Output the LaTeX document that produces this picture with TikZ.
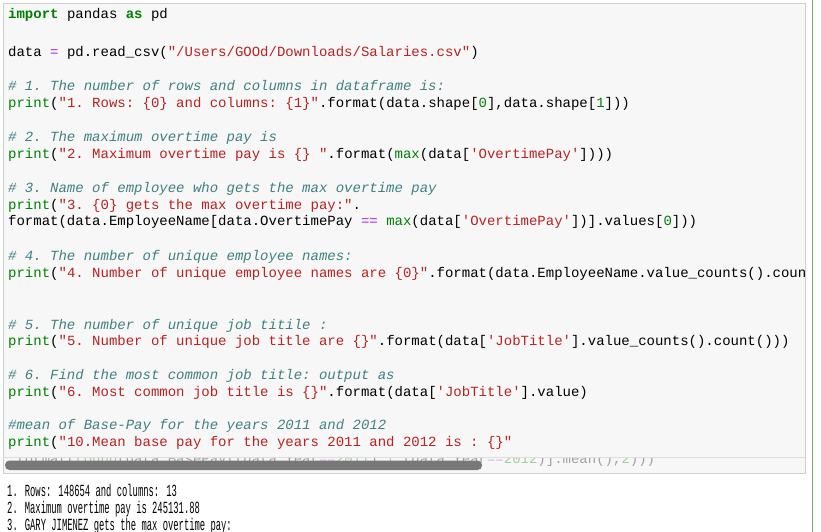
\documentclass[tikz,border=0pt]{standalone}
\usepackage{fontspec}
\setmonofont{Liberation Mono}
\newfontfamily\outfont[FakeStretch=0.52]{Liberation Mono}
\definecolor{kw}{HTML}{008000}
\definecolor{st}{HTML}{BA2121}
\definecolor{cm}{HTML}{408080}
\definecolor{op}{HTML}{AA22FF}
\definecolor{bgc}{HTML}{F7F7F7}
\definecolor{bdc}{HTML}{CFCFCF}
\newcommand\K[1]{\textcolor{kw}{\bfseries #1}}
\newcommand\B[1]{\textcolor{kw}{#1}}
\newcommand\Sx[1]{\textcolor{st}{#1}}
\newcommand\Cx[1]{\textcolor{cm}{\itshape #1}}
\newcommand\Ox[1]{\textcolor{op}{#1}}
\tikzset{code/.style={anchor=base west,inner sep=0pt,font=\fontsize{14}{17}\ttfamily},
outtext/.style={anchor=base west,inner sep=0pt,font=\fontsize{17}{17}\outfont}}
\begin{document}
\begin{tikzpicture}[x=1pt,y=-1pt]
\useasboundingbox (0,0) rectangle (821,532);
\fill[white] (0,0) rectangle (821,532);
\draw[bdc,fill=bgc] (3.5,3.5) rectangle (805.5,473.5);
\draw[kw!60,line width=1pt] (812.5,0) -- (812.5,532);
\begin{scope}
\clip (4,4) rectangle (805,457);
\node[code] (l1) at (8,19) {\K{import} pandas \K{as} pd};
\node[code] (l2) at (8,57) {data \Ox{=} pd.read\_csv(\Sx{"/Users/GOOd/Downloads/Salaries.csv"})};
\node[code] (l3) at (8,91) {\Cx{\# 1. The number of rows and columns in dataframe is:}};
\node[code] (l4) at (8,108) {\B{print}(\Sx{"1. Rows: \{0\} and columns: \{1\}"}.format(data.shape[\B{0}],data.shape[\B{1}]))};
\node[code] (l5) at (8,141) {\Cx{\# 2. The maximum overtime pay is}};
\node[code] (l6) at (8,158) {\B{print}(\Sx{"2. Maximum overtime pay is \{\} "}.format(\B{max}(data[\Sx{'OvertimePay'}])))};
\node[code] (l7) at (8,192) {\Cx{\# 3. Name of employee who gets the max overtime pay}};
\node[code] (l8) at (8,209) {\B{print}(\Sx{"3. \{0\} gets the max overtime pay:"}.};
\node[code] (l9) at (8,225) {format(data.EmployeeName[data.OvertimePay \Ox{==} \B{max}(data[\Sx{'OvertimePay'}])].values[\B{0}]))};
\node[code] (l10) at (8,260) {\Cx{\# 4. The number of unique employee names:}};
\node[code] (l11) at (8,277) {\B{print}(\Sx{"4. Number of unique employee names are \{0\}"}.format(data.EmployeeName.value\_counts().count()))};
\node[code] (l12) at (8,329) {\Cx{\# 5. The number of unique job titile :}};
\node[code] (l13) at (8,345) {\B{print}(\Sx{"5. Number of unique job title are \{\}"}.format(data[\Sx{'JobTitle'}].value\_counts().count()))};
\node[code] (l14) at (8,379) {\Cx{\# 6. Find the most common job title: output as}};
\node[code] (l15) at (8,396) {\B{print}(\Sx{"6. Most common job title is \{\}"}.format(data[\Sx{'JobTitle'}].value)};
\node[code] (l16) at (8,429) {\Cx{\#mean of Base-Pay for the years 2011 and 2012}};
\node[code] (l17) at (8,446) {\B{print}(\Sx{"10.Mean base pay for the years 2011 and 2012 is : \{\}"}};
\end{scope}
\begin{scope}
\clip (4,457) rectangle (805,473);
\node[code,opacity=0.35] (l18) at (8,463) {.format(\B{round}(data.BasePay[(data.Year\Ox{==}\B{2011}) \Ox{|} (data.Year\Ox{==}\B{2012})].mean(),\B{2})))};
\end{scope}
\draw[bdc!70] (4,457.5) -- (805,457.5);
\fill[black!53,rounded corners=4.5pt] (5,460.5) rectangle (482,470);
\node[outtext] (o1) at (7,496) {1. Rows: 148654 and columns: 13};
\node[outtext] (o2) at (7,513) {2. Maximum overtime pay is 245131.88};
\node[outtext] (o3) at (7,530) {3. GARY JIMENEZ gets the max overtime pay:};
\end{tikzpicture}
\end{document}
